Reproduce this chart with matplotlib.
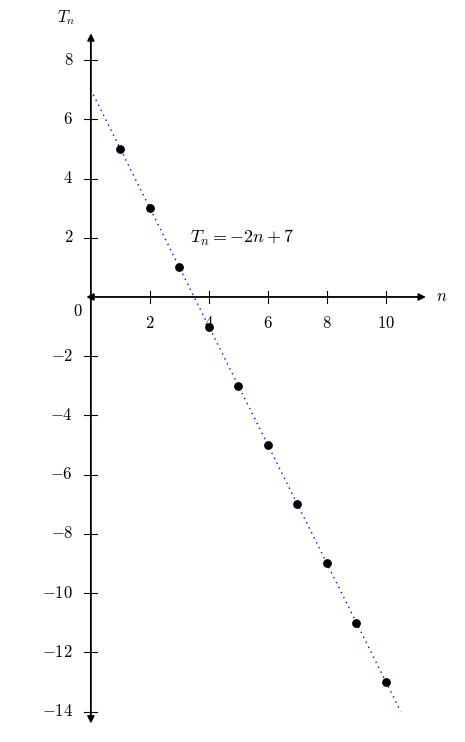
import matplotlib
matplotlib.use("Agg")
import matplotlib.pyplot as plt
import numpy as np

plt.rcParams['mathtext.fontset'] = 'cm'
plt.rcParams['font.family'] = 'serif'
plt.rcParams['font.serif'] = ['DejaVu Serif']

n_vals = [1, 2, 3, 4, 5, 6, 7, 8, 9, 10]
T_vals = [5, 3, 1, -1, -3, -5, -7, -9, -11, -13]
x_ticks = [2, 4, 6, 8, 10]
y_ticks = [8, 6, 4, 2, -2, -4, -6, -8, -10, -12, -14]
line_x = [0, 10.5]
line_y = [-2 * x + 7 for x in line_x]

fig = plt.figure(figsize=(4.65, 7.42), dpi=100)
ax = fig.add_axes([0, 0, 1, 1])
ax.set_xlim(-3.08, 12.68)
ax.set_ylim(-15.03, 10.03)
ax.axis('off')

ap = dict(arrowstyle='<|-|>', color='black', lw=1.3, mutation_scale=10)
ax.annotate('', xy=(11.45, 0), xytext=(-0.25, 0), arrowprops=ap)
ax.annotate('', xy=(0, 9.0), xytext=(0, -14.5), arrowprops=ap)

for t in y_ticks:
    ax.plot([-0.22, 0.22], [t, t], color='black', lw=0.8)
    ax.text(-0.6, t, r'$%d$' % t, ha='right', va='center', fontsize=12)
for t in x_ticks:
    ax.plot([t, t], [-0.2, 0.2], color='black', lw=0.8)
    ax.text(t, -0.9, r'$%d$' % t, ha='center', va='center', fontsize=12)
ax.text(-0.45, -0.5, r'$0$', ha='center', va='center', fontsize=12)
ax.text(11.9, 0, r'$n$', ha='center', va='center', fontsize=12)
ax.text(-0.85, 9.45, r'$T_n$', ha='center', va='center', fontsize=12)

ax.plot(line_x, line_y, color='blue', lw=1, ls=(0, (1, 3)))
ax.scatter(n_vals, T_vals, s=28, color='black', zorder=5)
ax.text(3.35, 2.0, r'$T_n = -2n + 7$', ha='left', va='center', fontsize=13)

fig.savefig('out.png', dpi=100)
